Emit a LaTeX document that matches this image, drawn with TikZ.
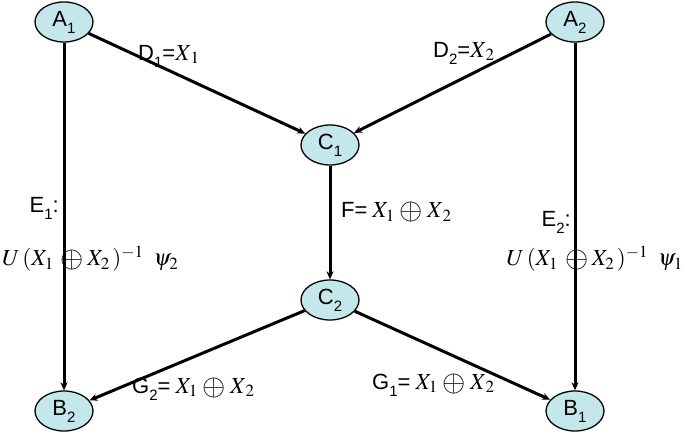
\documentclass[tikz,border=0pt]{standalone}
\usepackage{mathptmx}
\usepackage{fontspec}
\setmainfont{Liberation Sans}
\usetikzlibrary{shapes.geometric,arrows.meta}
\definecolor{nodefill}{RGB}{196,231,236}
\newcommand{\sbs}[1]{\raisebox{-0.32em}{\fontsize{15}{15}\selectfont #1}}
\newcommand{\myoplus}{\mathbin{\vcenter{\hbox{\scalebox{1.3}{$\oplus$}}}}}
\newcommand{\xox}{$X_{1}\mkern1mu\myoplus\mkern1mu X_{\,2}$}
\tikzset{
  st/.style={ellipse,draw=black,line width=1.3pt,fill=nodefill,minimum width=58pt,minimum height=40pt,inner sep=0pt,font=\fontsize{22}{26}\selectfont},
  arr/.style={line width=3pt,-{Stealth[length=8pt,width=7pt]}},
  lbl/.style={font=\fontsize{22}{26}\selectfont,inner sep=0pt},
  mlbl/.style={font=\fontsize{23}{27}\selectfont,inner sep=0pt}
}
\begin{document}
\begin{tikzpicture}[x=1pt,y=-1pt]
\useasboundingbox (0,0) rectangle (685,433);
\node[st] (A1) at (64,22) {A\sbs{1}};
\node[st] (A2) at (575,22) {A\sbs{2}};
\node[st] (C1) at (330,145) {C\sbs{1}};
\node[st] (C2) at (330,300) {C\sbs{2}};
\node[st] (B2) at (64,411) {B\sbs{2}};
\node[st] (B1) at (575,411) {B\sbs{1}};
\draw[arr] (A1) -- (B2);
\draw[arr] (A2) -- (B1);
\draw[arr] (A1) -- (C1);
\draw[arr] (A2) -- (C1);
\draw[arr] (C1) -- (C2);
\draw[arr] (C2) -- (B2);
\draw[arr] (C2) -- (B1);
\node[lbl,anchor=west] (D1) at (138,56) {D\sbs{1}=\fontsize{23}{27}\selectfont$X_{\,1}$};
\node[lbl,anchor=west] (D2) at (433,53) {D\sbs{2}=\fontsize{23}{27}\selectfont$X_{\,2}$};
\node[lbl,anchor=east] (E1) at (59,208) {E\sbs{1}:};
\node[lbl,anchor=east] (E2) at (571,222) {E\sbs{2}:};
\node[mlbl,anchor=west] (U1) at (2,259) {$U\,(X_1\hspace{4pt}\myoplus X_2\,)^{-1}\hspace{10pt}\psi_2$};
\node[mlbl,anchor=east] (U2) at (683,259) {$U\,(X_1\hspace{4pt}\myoplus X_2\,)^{-1}\hspace{10pt}\psi_1$};
\node[lbl,anchor=west] (F) at (341,212) {F=\hspace{5pt}\fontsize{23}{27}\selectfont\xox};
\node[lbl,anchor=west] (G2) at (132,389) {G\sbs{2}=\hspace{5pt}\fontsize{23}{27}\selectfont\xox};
\node[lbl,anchor=west] (G1) at (372,385) {G\sbs{1}=\hspace{5pt}\fontsize{23}{27}\selectfont\xox};
\end{tikzpicture}
\end{document}
